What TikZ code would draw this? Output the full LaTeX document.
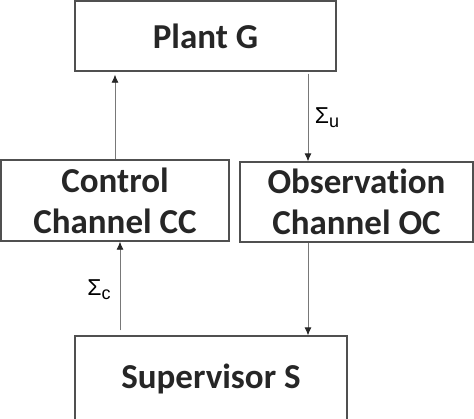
\documentclass[tikz,border=0pt]{standalone}
\usepackage{fontspec}
\setmainfont{Carlito}[Ligatures=NoCommon]
\newfontfamily\sigfont{Liberation Sans}
\usepackage{tikz}
\usetikzlibrary{arrows.meta}

\begin{document}
\begin{tikzpicture}[x=1pt,y=-1pt,
  blk/.style={draw=boxgry, line width=1.3pt, inner sep=0pt, align=center,
    font=\fontsize{35}{41}\selectfont\bfseries, text=black!85},
  sig/.style={-{Latex[length=8pt,width=7pt,color=black!85]}, draw=lingry, line width=.8pt},
  lbl/.style={inner sep=0pt, font=\sigfont\fontsize{23}{23}\selectfont}]
\definecolor{boxgry}{RGB}{80,80,80}
\definecolor{lingry}{RGB}{120,120,120}
\clip (0,0) rectangle (474,418);
%% --- blocks (pixel coordinates, y down) ---
\node[blk, minimum width=261pt, minimum height=70pt] (plant) at (205.5,36) {Plant G};
\node[blk, minimum width=228pt, minimum height=81pt] (cc) at (115,200.5) {Control\\Channel CC};
\node[blk, minimum width=233pt, minimum height=80pt] (oc) at (356.5,202) {Observation\\Channel OC};
\node[blk, minimum width=272pt, minimum height=86pt] (sup) at (211,379) {Supervisor S};
%% --- channels ---
\draw[sig, shorten >=3pt] (cc.north -| 115,0) -- (plant.south -| 115,0);
\draw[sig, shorten <=2pt] (plant.south -| 308,0) -- (oc.north -| 308,0);
\draw[sig, shorten <=5pt] (sup.north -| 120,0) -- (cc.south -| 120,0);
\draw[sig] (oc.south -| 308,0) -- (sup.north -| 308,0);
\node[lbl] (su) at (327,118) {Σ\raisebox{-4pt}{\fontsize{18}{18}\selectfont u}};
\node[lbl] (sc) at (99,290) {Σ\raisebox{-4pt}{\fontsize{18}{18}\selectfont c}};
\end{tikzpicture}
\end{document}
